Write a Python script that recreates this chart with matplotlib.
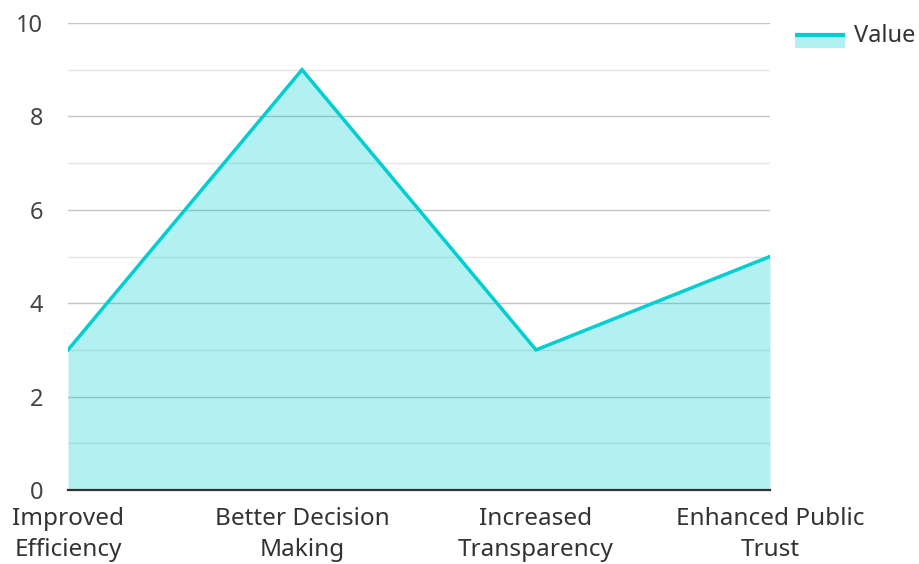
import matplotlib
matplotlib.use("Agg")
import matplotlib.pyplot as plt
from matplotlib.patches import Rectangle
from matplotlib.lines import Line2D

categories = ["Improved\nEfficiency", "Better Decision\nMaking", "Increased\nTransparency", "Enhanced Public\nTrust"]
values = [3, 9, 3, 5]
y_ticks = [0, 2, 4, 6, 8, 10]
minor_ticks = [1, 3, 5, 7, 9]
series_name = "Value"

plt.rcParams['font.family'] = ['Noto Sans', 'DejaVu Sans']

fig = plt.figure(figsize=(9.2, 5.64), dpi=100)
ax = fig.add_axes([68/920, 1-490/564, (770-68)/920, (490-23)/564])

x = list(range(len(categories)))
line_color = "#00CED1"
ax.fill_between(x, values, 0, color=line_color, alpha=0.3, linewidth=0, zorder=2)
ax.plot(x, values, color=line_color, linewidth=2.5, zorder=3, solid_joinstyle='miter')

ax.set_xlim(0, len(categories)-1)
ax.set_ylim(0, 10)
ax.set_yticks(y_ticks)
ax.set_yticks(minor_ticks, minor=True)
ax.set_xticks(x)
ax.set_xticklabels(categories, fontsize=17.5, color="#333333", linespacing=1.42)
ax.set_yticklabels([str(t) for t in y_ticks], fontsize=17, color="#444444")
ax.grid(True, which='major', axis='y', color="#c4c4c4", linewidth=1, zorder=1)
ax.grid(True, which='minor', axis='y', color="#e6e6e6", linewidth=1, zorder=1)
ax.tick_params(axis='y', which='both', length=0, pad=18)
ax.tick_params(axis='x', length=0, pad=12)
for s in ['top', 'right', 'left']:
    ax.spines[s].set_visible(False)
ax.spines['bottom'].set_color("#333333")
ax.spines['bottom'].set_linewidth(1.6)
ax.spines['bottom'].set_zorder(4)

# legend drawn in figure pixel coordinates
W, H = 920, 564
fig.add_artist(Rectangle((795/W, 1-48/H), 50/W, 15/H, transform=fig.transFigure,
                         facecolor=line_color, alpha=0.3, linewidth=0))
fig.add_artist(Line2D([795/W, 845/W], [1-34.5/H, 1-34.5/H], transform=fig.transFigure,
                      color=line_color, linewidth=3, solid_capstyle='butt'))
fig.text(854/W, 1-36/H, series_name, fontsize=17, color="#333333", va='center', ha='left')

fig.savefig("out.png", dpi=100)
